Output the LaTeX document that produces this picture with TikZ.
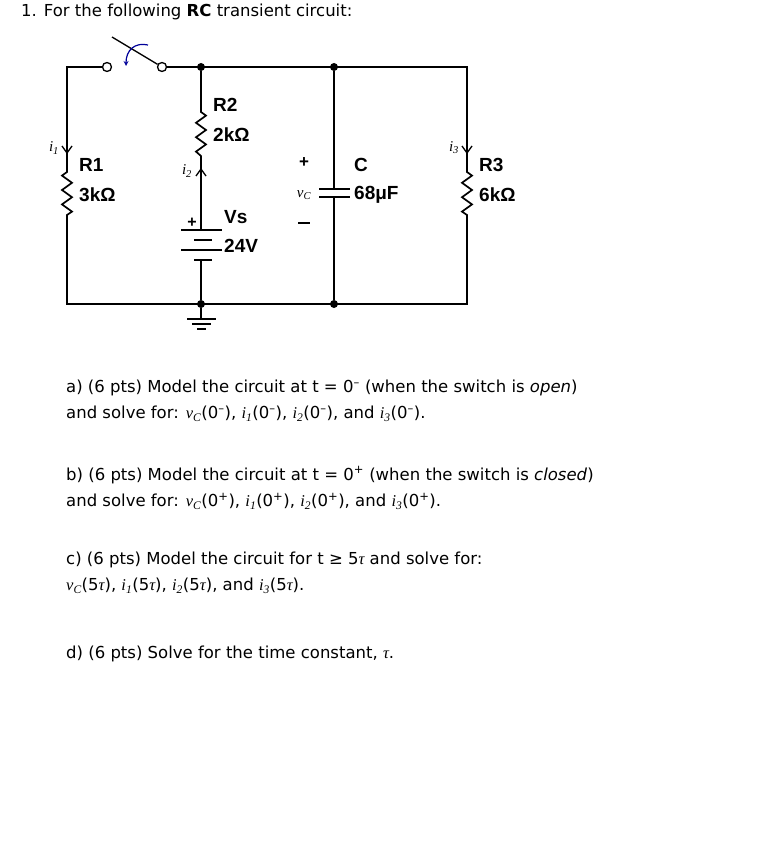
\documentclass[tikz,border=0pt]{standalone}
\usepackage{fontspec}
\setmainfont{DejaVu Sans}
\newfontfamily\arialf{Liberation Sans}
\newfontfamily\serf{Liberation Serif}
\begin{document}
\begin{tikzpicture}[x=1pt,y=-1pt,
  wire/.style={line width=1.7pt},
  dot/.style={circle,fill,inner sep=0pt,minimum size=8pt},
  lab/.style={font=\arialf\bfseries\fontsize{19}{21}\selectfont,inner sep=0pt,anchor=west},
  curlab/.style={font=\serf\itshape\fontsize{15}{16}\selectfont,inner sep=0pt},
  txt/.style={font=\fontsize{16.5}{19}\selectfont,anchor=west,inner sep=0pt}]
\useasboundingbox[fill=white] (0,0) rectangle (756,864);
\coordinate (TL) at (67,67); \coordinate (BL) at (67,304);
\coordinate (TR) at (467,67); \coordinate (BR) at (467,304);
\node[dot] (J1) at (201,67) {}; \node[dot] (J2) at (334,67) {};
\node[dot] (J3) at (201,304) {}; \node[dot] (J4) at (334,304) {};
\node[circle,draw,line width=1.3pt,fill=white,inner sep=0pt,minimum size=9pt] (S1) at (107,67) {};
\node[circle,draw,line width=1.3pt,fill=white,inner sep=0pt,minimum size=9pt] (S2) at (162,67) {};
\draw[wire] (S1) -- (TL) -- (67,172) -- (62,175.6) -- (72,182.8) -- (62,190) -- (72,197.2) -- (62,204.4) -- (72,211.6) -- (67,215) -- (BL) -- (BR) -- (467,215) -- (462,211.6) -- (472,204.4) -- (462,197.2) -- (472,190) -- (462,182.8) -- (472,175.6) -- (467,172) -- (TR) -- (S2);
\draw[line width=1.3pt] (S2) -- (112,37);
\draw[wire] (J1) -- (201,112) -- (206,115.6) -- (196,122.8) -- (206,130) -- (196,137.2) -- (206,144.4) -- (196,151.6) -- (201,156) -- (201,230);
\draw[wire] (181,230) -- (222,230); \draw[wire] (194,240) -- (212,240);
\draw[wire] (181,250) -- (222,250); \draw[wire] (194,260) -- (212,260);
\draw[wire] (201,260) -- (J3) -- (201,319);
\draw[wire] (187,319) -- (216,319); \draw[wire] (192,324) -- (211,324); \draw[wire] (197,329) -- (206,329);
\draw[wire] (J2) -- (334,189); \draw[wire] (334,197) -- (J4);
\draw[line width=2.6pt] (319,189) -- (350,189); \draw[line width=2.6pt] (319,197) -- (350,197);
\draw[line width=1.3pt] (62,146) -- (67,153) -- (72,146);
\draw[line width=1.3pt] (462,146) -- (467,153) -- (472,146);
\draw[line width=1.3pt] (196,176) -- (201,169) -- (206,176);
\draw[line width=1.2pt,blue!60!black,->,>=stealth] (148,45) .. controls (135,42) and (126,50) .. (126,66);
\node[curlab] (li1) at (54,148) {i\textsubscript{1}};
\node[curlab] (li3) at (454,148) {i\textsubscript{3}};
\node[curlab] (li2) at (187,171) {i\textsubscript{2}};
\node[curlab] (lvc) at (304,195) {v\textsubscript{C}};
\node[lab] (tR1) at (79,165) {R1}; \node[lab] (vR1) at (79,195) {3kΩ};
\node[lab] (tR2) at (213,105) {R2}; \node[lab] (vR2) at (213,135) {2kΩ};
\node[lab] (tR3) at (479,165) {R3}; \node[lab] (vR3) at (479,195) {6kΩ};
\node[lab] (tC) at (354,165) {C}; \node[lab] (vC) at (354,195) {68μF};
\node[lab] (tVs) at (224,217) {Vs}; \node[lab] (vVs) at (224,246) {24V};
\node[font=\arialf\bfseries\fontsize{16}{16}\selectfont,inner sep=0pt] (pl1) at (192,223) {+};
\node[font=\arialf\bfseries\fontsize{17}{17}\selectfont,inner sep=0pt] (pl2) at (304,163) {+};
\draw[line width=1.7pt] (298,223) -- (310,223);
\node[txt] (t0) at (21,12) {1. For the following \textbf{RC} transient circuit:};
\node[txt] (a1) at (66,388) {a) (6 pts) Model the circuit at t = 0\textsuperscript{--} (when the switch is \textit{open})};
\node[txt] (a2) at (66,414) {and solve for: {\serf\itshape v\textsubscript{C}}(0\textsuperscript{--}), {\serf\itshape i\textsubscript{1}}(0\textsuperscript{--}), {\serf\itshape i\textsubscript{2}}(0\textsuperscript{--}), and {\serf\itshape i\textsubscript{3}}(0\textsuperscript{--}).};
\node[txt] (b1) at (66,475) {b) (6 pts) Model the circuit at t = 0\textsuperscript{+} (when the switch is \textit{closed})};
\node[txt] (b2) at (66,501) {and solve for: {\serf\itshape v\textsubscript{C}}(0\textsuperscript{+}), {\serf\itshape i\textsubscript{1}}(0\textsuperscript{+}), {\serf\itshape i\textsubscript{2}}(0\textsuperscript{+}), and {\serf\itshape i\textsubscript{3}}(0\textsuperscript{+}).};
\node[txt] (c1) at (66,560) {c) (6 pts) Model the circuit for t ≥ 5{\serf\itshape τ} and solve for:};
\node[txt] (c2) at (66,586) {{\serf\itshape v\textsubscript{C}}(5{\serf\itshape τ}), {\serf\itshape i\textsubscript{1}}(5{\serf\itshape τ}), {\serf\itshape i\textsubscript{2}}(5{\serf\itshape τ}), and {\serf\itshape i\textsubscript{3}}(5{\serf\itshape τ}).};
\node[txt] (d1) at (66,654) {d) (6 pts) Solve for the time constant, {\serf\itshape τ}.};
\end{tikzpicture}
\end{document}
